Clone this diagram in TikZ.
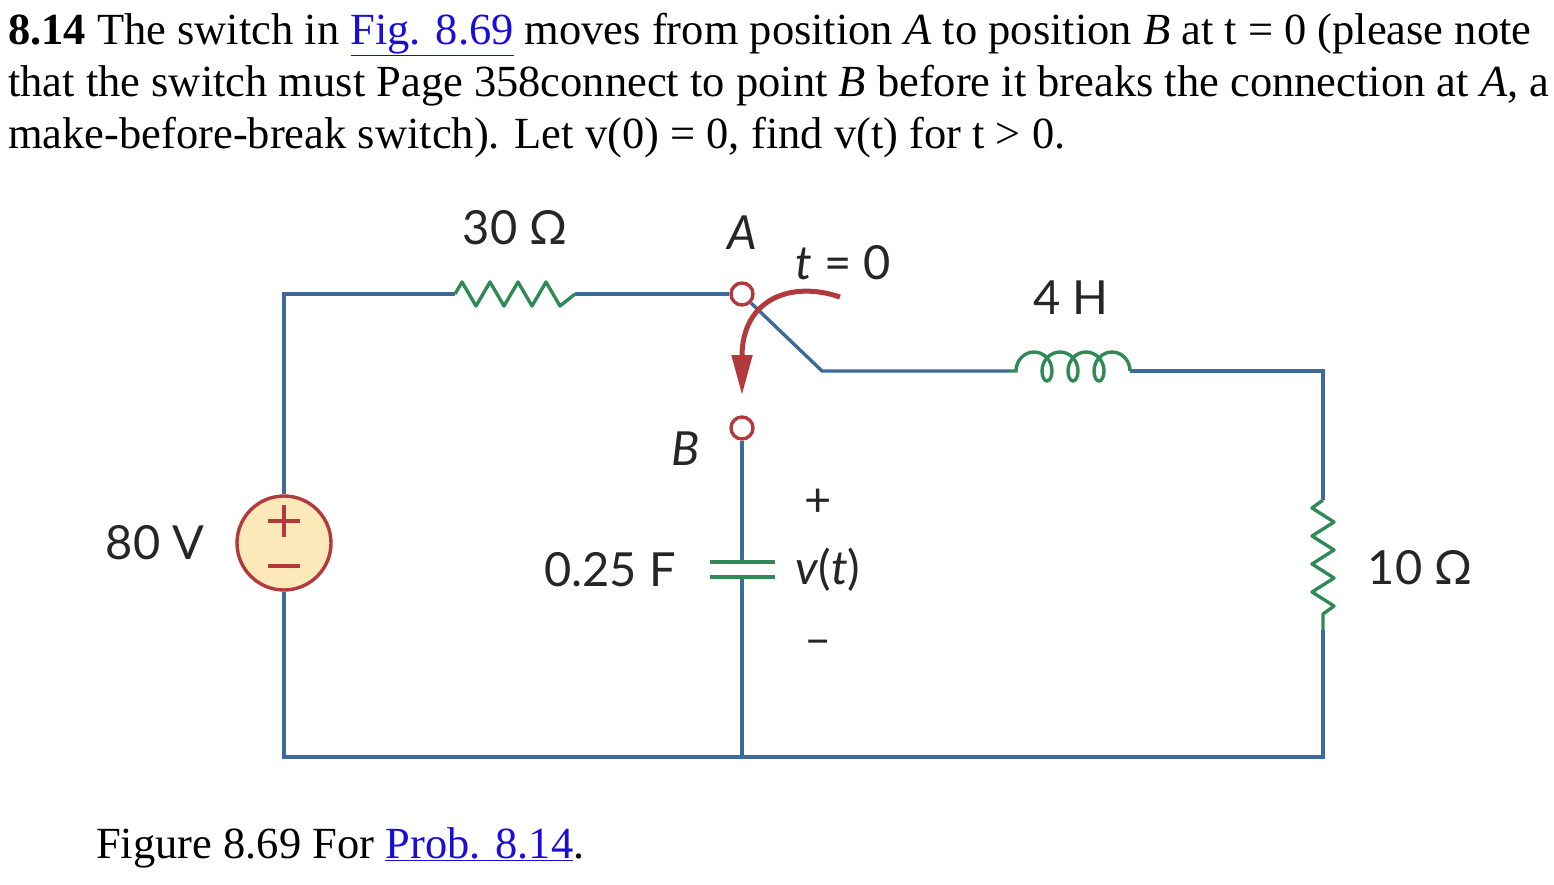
\documentclass[tikz,border=0pt]{standalone}
\usepackage{fontspec}
\setmainfont{Liberation Serif}
\newfontfamily\lab{Lato}
\usetikzlibrary{arrows.meta}
\definecolor{wire}{HTML}{3E6A9A}
\definecolor{grn}{HTML}{2F8A55}
\definecolor{rd}{HTML}{B23A3C}
\definecolor{lnk}{HTML}{1A0DD8}
\begin{document}
\begin{tikzpicture}[x=1pt,y=-1pt,
  w/.style={wire,line width=3.4pt},
  comp/.style={grn,line width=3.4pt},
  term/.style={circle,draw=rd,line width=3.4pt,fill=white,minimum size=22pt,inner sep=0pt},
  lbl/.style={font=\lab\fontsize{47}{50}\selectfont,text=black!85,inner sep=0pt},
  tl/.style={anchor=base west,inner sep=0pt,font=\fontsize{44.5}{47}\selectfont}]
\useasboundingbox (0,0) rectangle (1554,884);
% title
\node[tl] (l1) at (8,44) {\textbf{8.14} The switch in \textcolor{lnk}{\underline{Fig. 8.69}} moves from position \textit{A} to position \textit{B} at t = 0 (please note};
\node[tl] (l2) at (8,96) {that the switch must Page 358connect to point \textit{B} before it breaks the connection at \textit{A}, a};
\node[tl] (l3) at (8,148) {make-before-break switch). Let v(0) = 0, find v(t) for t > 0.};
\node[tl] (cap) at (96,858) {Figure 8.69 For \textcolor{lnk}{\underline{Prob. 8.14}}.};
% nodes
\coordinate (tl) at (284,294);
\coordinate (bl) at (284,757);
\coordinate (r1a) at (455,294);
\coordinate (r1b) at (575,294);
\node[term] (A) at (742,294) {};
\node[term] (B) at (742,428) {};
\coordinate (sw) at (822,371);
\coordinate (la) at (1010,371);
\coordinate (lb) at (1130,371);
\coordinate (tr) at (1323,371);
\coordinate (r2a) at (1323,500);
\coordinate (r2b) at (1323,630);
\coordinate (br) at (1323,757);
\coordinate (bm) at (742,757);
\coordinate (c1) at (742,562);
\coordinate (c2) at (742,577);
\node[circle,draw=rd,line width=3.4pt,fill=yellow!35!orange!25,minimum size=94pt,inner sep=0pt] (V) at (284,543) {};
% wires
\draw[w] (V.north) -- (tl) -- (r1a);
\draw[w] (r1b) -- (A.west);
\draw[w] (A.south east) -- (sw) -- (la);
\draw[w] (lb) -- (tr) -- (r2a);
\draw[w] (r2b) -- (br) -- (bl) -- (V.south);
\draw[w] (B.south) -- (c1);
\draw[w] (c2) -- (bm);
% resistors
\draw[comp,line join=round] (r1a) -- ++(7,-12) -- ++(14,24) -- ++(14,-24) -- ++(14,24) -- ++(14,-24) -- ++(14,24) -- ++(14,-24) -- ++(14,24) -- (r1b);
\draw[comp,line join=round] (r2a) -- ++(-11,8) -- ++(22,14) -- ++(-22,14) -- ++(22,14) -- ++(-22,14) -- ++(22,14) -- ++(-22,14) -- ++(22,14) -- ++(-11,8) -- (r2b);
% inductor
\draw[comp] (la) -- ++(6,0) arc[start angle=180,end angle=360,x radius=18,y radius=19]
  arc[start angle=0,end angle=180,x radius=5,y radius=10]
  arc[start angle=180,end angle=360,x radius=18,y radius=19]
  arc[start angle=0,end angle=180,x radius=5,y radius=10]
  arc[start angle=180,end angle=360,x radius=18,y radius=19]
  arc[start angle=0,end angle=180,x radius=5,y radius=10]
  arc[start angle=180,end angle=360,x radius=18,y radius=19] -- (lb);
% capacitor
\draw[comp] (710,562) -- (775,562) (710,577) -- (775,577);
% source signs
\draw[rd,line width=3.4pt] (268,521) -- (300,521) (284,505) -- (284,537) (268,566) -- (300,566);
% switch arrow
\draw[rd,line width=5pt,-{Triangle[length=40pt,width=20pt]}] (840,297) .. controls (790,280) and (742,300) .. (742,395);
% labels
\node[lbl] (l30) at (515,228) {30 Ω};
\node[lbl,font=\lab\itshape\fontsize{47}{50}\selectfont] (lA) at (742,233) {A};
\node[lbl] (lt) at (843,263) {\textit{t} = 0};
\node[lbl] (l4) at (1071,298) {4 H};
\node[lbl,font=\lab\itshape\fontsize{47}{50}\selectfont] (lB) at (686,449) {B};
\node[lbl] (lC) at (610,570) {0.25 F};
\node[lbl] (lp) at (818,503) {+};
\node[lbl] (lv) at (828,570) {\textit{v}(\textit{t})};
\node[lbl] (lm) at (818,648) {\textendash};
\node[lbl] (l80) at (155,543) {80 V};
\node[lbl] (l10) at (1420,568) {10 Ω};
\end{tikzpicture}
\end{document}
